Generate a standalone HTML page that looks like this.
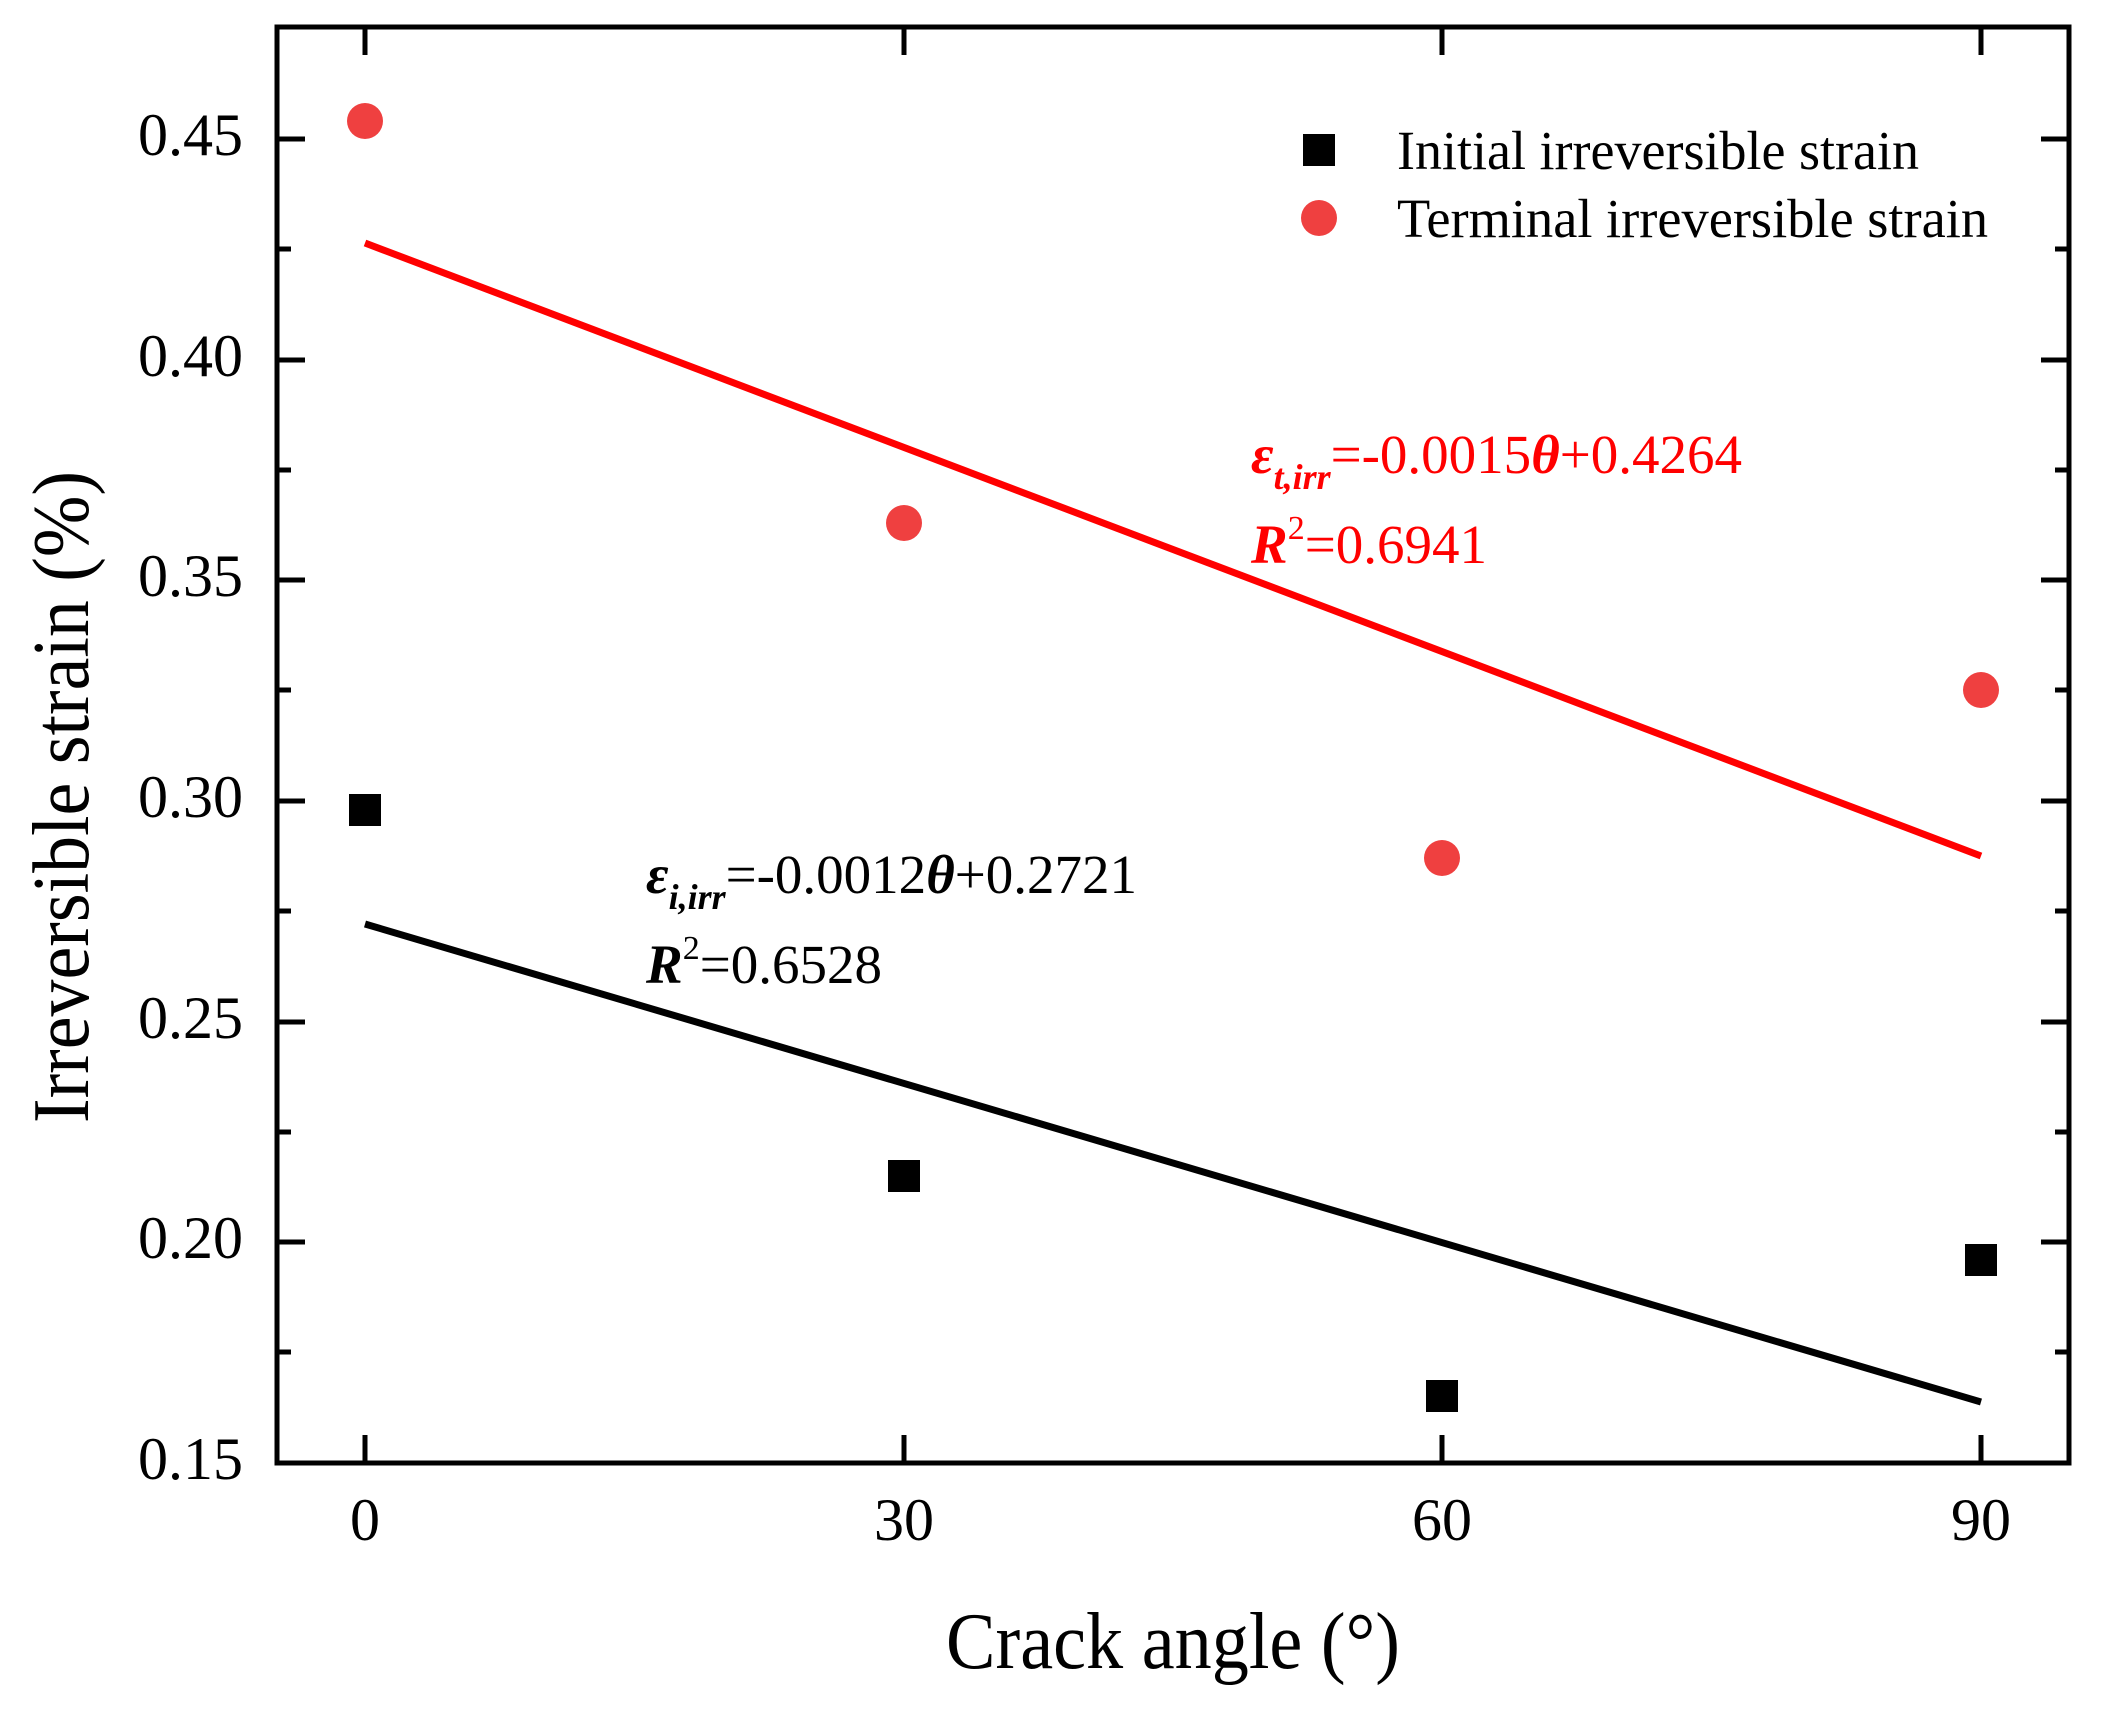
<!DOCTYPE html>
<html><head><meta charset="utf-8"><style>html,body{margin:0;padding:0;background:#fff}svg{display:block}</style></head>
<body>
<svg width="2103" height="1717" viewBox="0 0 2103 1717" xmlns="http://www.w3.org/2000/svg" font-family="'Liberation Serif', serif">
<rect width="2103" height="1717" fill="#fff"/>
<line x1="365" y1="243" x2="1981" y2="856" stroke="#ff0000" stroke-width="7"/>
<line x1="365" y1="924" x2="1981" y2="1402" stroke="#000" stroke-width="7"/>
<rect x="277" y="27" width="1792" height="1436" fill="none" stroke="#000" stroke-width="5"/>
<g stroke="#000" stroke-width="5">
<path d="M277 1463h28M277 1242h28M277 1022h28M277 801h28M277 580h28M277 360h28M277 139h28"/>
<path d="M2069 1463h-28M2069 1242h-28M2069 1022h-28M2069 801h-28M2069 580h-28M2069 360h-28M2069 139h-28"/>
<path d="M277 1352h14M277 1132h14M277 911h14M277 690h14M277 470h14M277 249h14"/>
<path d="M2069 1352h-14M2069 1132h-14M2069 911h-14M2069 690h-14M2069 470h-14M2069 249h-14"/>
<path d="M365 1463v-28M904 1463v-28M1442 1463v-28M1981 1463v-28"/>
<path d="M365 27v28M904 27v28M1442 27v28M1981 27v28"/>
</g>
<g font-size="60" text-anchor="end" fill="#000">
<text x="243" y="1479">0.15</text>
<text x="243" y="1258">0.20</text>
<text x="243" y="1038">0.25</text>
<text x="243" y="817">0.30</text>
<text x="243" y="596">0.35</text>
<text x="243" y="376">0.40</text>
<text x="243" y="155">0.45</text>
</g>
<g font-size="60" text-anchor="middle" fill="#000">
<text x="365" y="1540">0</text>
<text x="904" y="1540">30</text>
<text x="1442" y="1540">60</text>
<text x="1981" y="1540">90</text>
</g>
<text x="946" y="1668" font-size="80" textLength="454" lengthAdjust="spacingAndGlyphs">Crack angle (°)</text>
<text transform="translate(88,1123) rotate(-90)" font-size="80" textLength="652" lengthAdjust="spacingAndGlyphs">Irreversible strain (%)</text>
<g fill="#ef4040">
<circle cx="365" cy="121" r="18"/>
<circle cx="904" cy="523" r="18"/>
<circle cx="1442" cy="858" r="18"/>
<circle cx="1981" cy="690" r="18"/>
</g>
<g fill="#000">
<rect x="349" y="794" width="32" height="32"/>
<rect x="888" y="1160" width="32" height="32"/>
<rect x="1426" y="1380" width="32" height="32"/>
<rect x="1965" y="1244" width="32" height="32"/>
</g>
<rect x="1303" y="134" width="32" height="32" fill="#000"/>
<circle cx="1319" cy="218" r="18" fill="#ef4040"/>
<text x="1397" y="169" font-size="55" textLength="522" lengthAdjust="spacingAndGlyphs">Initial irreversible strain</text>
<text x="1397" y="237" font-size="55" textLength="591" lengthAdjust="spacingAndGlyphs">Terminal irreversible strain</text>
<g fill="#ff0000">
<text x="1251" y="473" font-size="55"><tspan font-style="italic" font-weight="bold">ε</tspan><tspan font-size="36" font-style="italic" font-weight="bold" dy="16">t,irr</tspan><tspan dy="-16">=-0.0015</tspan><tspan font-style="italic" font-weight="bold">θ</tspan><tspan>+0.4264</tspan></text>
<text x="1251" y="563" font-size="55"><tspan font-style="italic" font-weight="bold">R</tspan><tspan font-size="34" dy="-24">2</tspan><tspan dy="24">=0.6941</tspan></text>
</g>
<g fill="#000">
<text x="646" y="893" font-size="55"><tspan font-style="italic" font-weight="bold">ε</tspan><tspan font-size="36" font-style="italic" font-weight="bold" dy="16">i,irr</tspan><tspan dy="-16">=-0.0012</tspan><tspan font-style="italic" font-weight="bold">θ</tspan><tspan>+0.2721</tspan></text>
<text x="646" y="983" font-size="55"><tspan font-style="italic" font-weight="bold">R</tspan><tspan font-size="34" dy="-24">2</tspan><tspan dy="24">=0.6528</tspan></text>
</g>
</svg>
</body></html>
